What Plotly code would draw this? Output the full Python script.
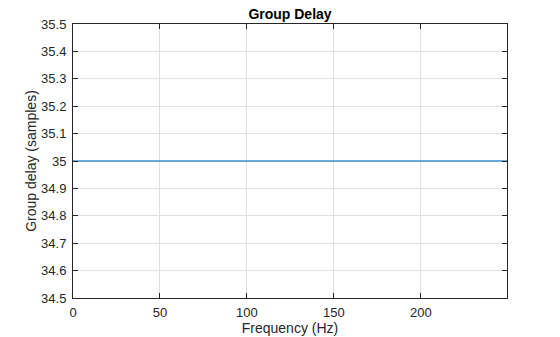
import plotly.graph_objects as go

freq_hz = [0, 50, 100, 150, 200, 249.5]
group_delay = [35, 35, 35, 35, 35, 35]
x_ticks = [0, 50, 100, 150, 200]
y_ticks = [34.5, 34.6, 34.7, 34.8, 34.9, 35, 35.1, 35.2, 35.3, 35.4, 35.5]
y_tick_labels = ["34.5", "34.6", "34.7", "34.8", "34.9", "35", "35.1", "35.2", "35.3", "35.4", "35.5"]

fig = go.Figure()
fig.add_trace(go.Scatter(x=freq_hz, y=group_delay, mode="lines",
                         line=dict(color="#3f8cc9", width=1.5), showlegend=False))

font = "Liberation Sans, Arial, sans-serif"
axis_common = dict(showline=True, linecolor="#262626", linewidth=1, mirror="ticks",
                   ticks="inside", ticklen=5, tickcolor="#262626", automargin=False,
                   showgrid=True, gridcolor="#dfdfdf", gridwidth=1, zeroline=False,
                   tickfont=dict(family=font, size=13, color="#262626"))

fig.update_layout(
    width=560, height=337,
    margin=dict(l=73, r=53, t=24, b=39),
    paper_bgcolor="white", plot_bgcolor="white",
    title=dict(text="<b>Group Delay</b>", x=0.5, xanchor="center", xref="paper",
               y=1 - 14.5 / 337, yref="container", yanchor="middle",
               font=dict(family=font, size=14, color="#000000")),
    xaxis=dict(range=[0, 249.5], tickvals=x_ticks, ticklabelstandoff=2,
               title=dict(text="Frequency (Hz)", standoff=4,
               font=dict(family=font, size=14, color="#262626")), **axis_common),
    yaxis=dict(range=[34.5, 35.5], tickvals=y_ticks, ticktext=y_tick_labels, ticklabelstandoff=3,
               title=dict(text="Group delay (samples)", standoff=1,
                          font=dict(family=font, size=14, color="#262626")), **axis_common),
)

fig.write_html("out.html")
